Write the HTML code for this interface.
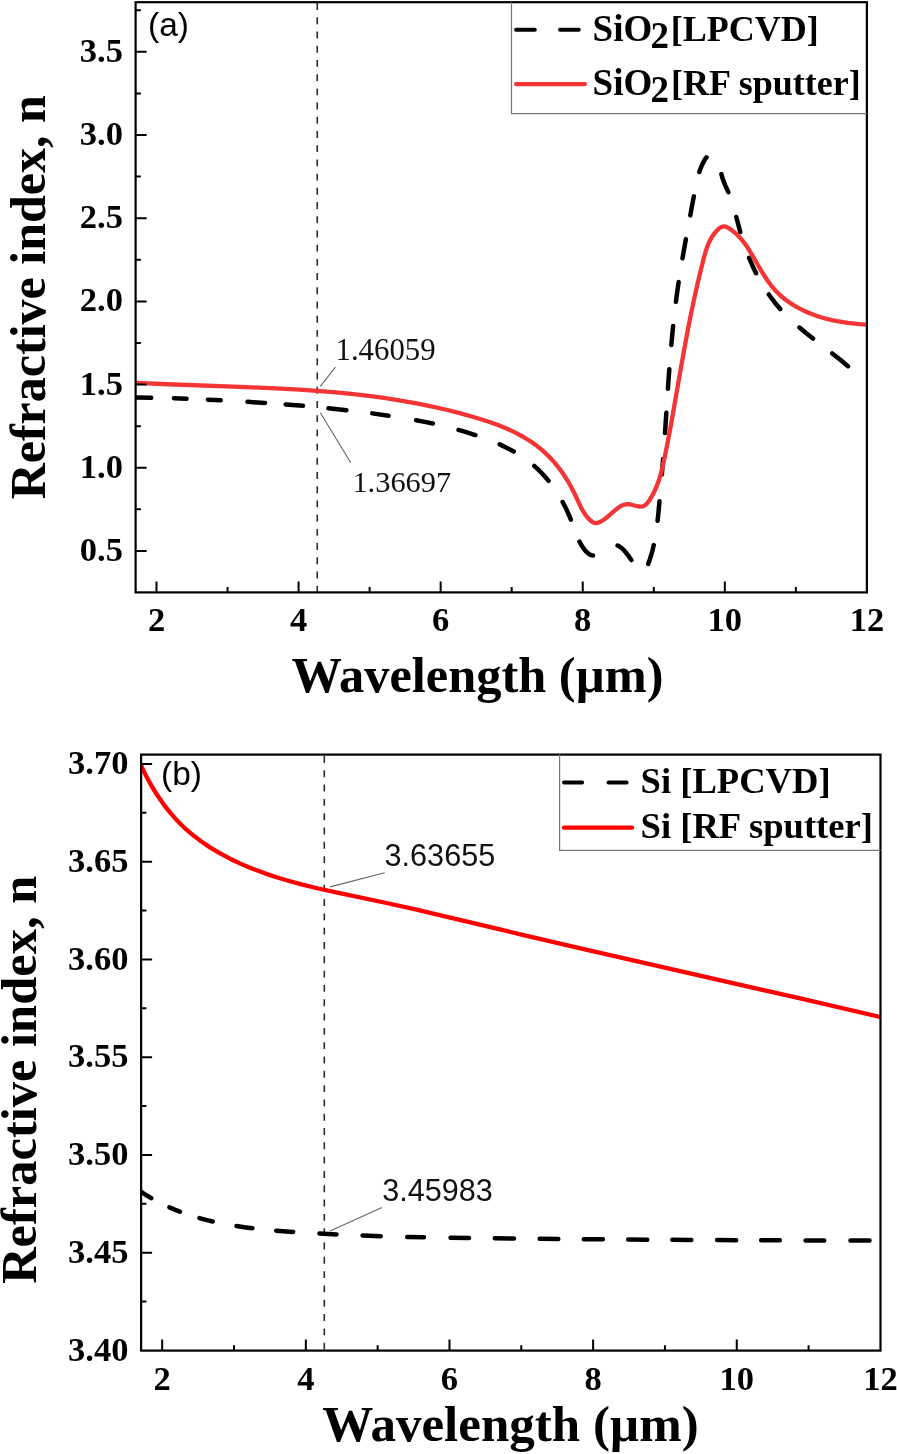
<!DOCTYPE html>
<html><head><meta charset="utf-8"><title>Refractive index</title>
<style>html,body{margin:0;padding:0;background:#fff;}svg{display:block;}</style>
</head><body>
<svg width="897" height="1454" viewBox="0 0 897 1454">
<rect width="897" height="1454" fill="#fff"/>
<defs><clipPath id="ca"><rect x="135.6" y="2.2" width="731.3" height="590.2"/></clipPath>
<clipPath id="cb"><rect x="141.1" y="754.6" width="739.4" height="596"/></clipPath></defs>
<path d="M317.25 3.12V592.4" stroke="#2b2b2b" stroke-width="1.6" stroke-dasharray="6.9 7.31" fill="none"/>
<path d="M122 397.39 L136.32 397.45 L151.28 397.67 M173.93 398.3 L186.54 398.77 M207.9 399.72 L220.7 400.37 M247.57 401.87 L265.04 402.98 M285.69 404.46 L302.94 405.85 M328.5 408.24 L346.38 410.16 M372.28 413.37 L388.56 415.68 M416.13 420.23 L424.71 421.88 L432.85 423.57 M458.54 429.9 L466.97 432.36 L475.36 435.03 M499.67 444.39 L507.02 447.91 L513.79 451.55 M534.26 465.93 L538.03 469.37 L541.64 472.99 L545.11 476.77 L548.56 480.87 M562.64 502.03 L565.05 506.61 L567.2 511.06 L569.17 515.52 L570.87 519.78 M579.52 541.68 L581.31 544.92 L583.05 547.66 L584.78 549.99 L586.47 551.88 L588.08 553.33 L589.75 554.44 L590.6 554.85 L591.46 555.16 L593.05 555.42 M617.6 545.57 L619.15 546.33 L620.66 547.33 L622.29 548.66 L623.86 550.2 L625.53 552.06 L627.27 554.24 L629.06 556.68 L631.36 560.02 M648.17 563.89 L649.77 559.45 L651.26 554.77 L652.56 550.04 L653.75 545.07 M657.6 520.79 L658.43 512.68 L659.47 501.14 M661.82 474.52 L663.11 458.99 M665 433.02 L666.34 412.76 M667.9 388.86 L669.3 369.23 M671.29 344.92 L673.13 325.97 M675.92 301.76 L677.24 291.81 L678.63 282.08 M682.48 258.27 L685.89 239.13 M690.3 215.36 L693.84 196.16 M699.32 172.02 L700.99 167.45 L702.79 163.39 L704.7 159.82 L705.54 158.54 L706.49 157.29 M721.41 174.14 L722.45 178.02 L723.73 181.73 L725.22 185.32 L728.33 192.19 M736.3 217.03 L740.27 232.08 M749.06 257.78 L752.46 265.65 L756.08 273.16 M768.81 294.48 L771.53 298.27 L774.37 301.97 L777.31 305.58 L780.23 308.95 M799.45 327.52 L805.74 332.78 L813 338.58 M832.25 353.45 L840.91 360.3 L848 366.2" clip-path="url(#ca)" stroke="#000" stroke-width="4.5" fill="none" stroke-linecap="round" stroke-linejoin="round"/>
<path d="M130.02 382.41 L147.89 383.37 L167.89 384.27 L246.67 387.13 L280.78 388.64 L299.4 389.69 L316.58 390.85 L333.04 392.18 L348.77 393.67 L366.56 395.66 L383.95 397.96 L400.6 400.52 L416.5 403.34 L432.36 406.54 L447.46 410 L462.51 413.86 L476.82 417.95 L487.97 421.5 L497.96 425.09 L507.08 428.81 L515.32 432.65 L523 436.74 L530.39 441.28 L537.17 446.08 L543.35 451.15 L548.94 456.44 L554.43 462.42 L559.54 468.8 L564.47 475.79 L568.07 481.54 L571.4 487.41 L574.75 494.02 L581.05 507.59 L583.23 511.52 L585.56 515.01 L588.53 518.59 L591.49 521.36 L592.66 522.18 L593.88 522.78 L595.15 523.12 L596.12 523.16 L597.44 522.95 L599.09 522.35 L601.33 521.21 L603.75 519.71 L607.7 516.73 L614.92 510.45 L617.97 507.98 L620.89 506.02 L623.38 504.87 L626.02 504.24 L628.49 504.23 L631.43 504.74 L637.35 506.23 L640.14 506.62 L642.39 506.44 L643.28 506.17 L644.4 505.63 L645.7 504.7 L646.9 503.55 L648.23 501.93 L649.66 499.86 L653.1 493.96 L654.67 490.79 L656.24 487.24 L658.6 481.01 L660.76 473.98 L662.75 466.16 L664.9 456.19 L668.05 440.32 L671.4 422.34 L682.99 356.17 L688.02 328.9 L691.09 313.42 L694.2 298.65 L697.43 284.24 L700.69 270.52 L703.71 258.51 L705.39 252.36 L707.01 247.34 L708.82 242.78 L711.02 238.41 L713.7 234.28 L716.71 230.7 L718.29 229.16 L719.69 228.02 L721.46 226.97 L723.3 226.41 L724.88 226.43 L726.8 227.05 L729.33 228.49 L732.89 231.04 L735.9 233.58 L738.93 236.55 L741.05 238.89 L743.27 241.59 L747.74 247.87 L751.64 254.14 L759.79 268.23 L763.42 274.28 L767.46 280.46 L771.17 285.53 L775.67 290.84 L780.38 295.51 L785.55 299.76 L791.38 303.8 L795.31 306.19 L799.33 308.4 L803.42 310.45 L807.9 312.47 L812.45 314.3 L817.06 315.96 L821.73 317.46 L826.8 318.88 L831.91 320.13 L837.07 321.22 L847.84 322.98 L859.39 324.22 L872 324.94" clip-path="url(#ca)" stroke="#f43535" stroke-width="4.3" fill="none" stroke-linejoin="round"/>
<rect x="135.6" y="2.2" width="731.3" height="590.2" fill="none" stroke="#000" stroke-width="2.2"/>
<path d="M135.6 550.9H146.6M135.6 467.72H146.6M135.6 384.55H146.6M135.6 301.38H146.6M135.6 218.2H146.6M135.6 135.02H146.6M135.6 51.85H146.6M135.6 509.31H140.9M135.6 426.14H140.9M135.6 342.96H140.9M135.6 259.79H140.9M135.6 176.61H140.9M135.6 93.44H140.9M135.6 10.26H140.9M156.5 592.4V581.4M298.58 592.4V581.4M440.66 592.4V581.4M582.74 592.4V581.4M724.82 592.4V581.4M227.54 592.4V587.1M369.62 592.4V587.1M511.7 592.4V587.1M653.78 592.4V587.1M795.86 592.4V587.1" stroke="#000" stroke-width="2" fill="none"/>
<g font-family="'Liberation Serif','Times New Roman',serif" font-weight="bold" font-size="34.5" fill="#000">
<text x="122.9" y="560.9" text-anchor="end">0.5</text>
<text x="122.9" y="477.72" text-anchor="end">1.0</text>
<text x="122.9" y="394.55" text-anchor="end">1.5</text>
<text x="122.9" y="311.38" text-anchor="end">2.0</text>
<text x="122.9" y="228.2" text-anchor="end">2.5</text>
<text x="122.9" y="145.02" text-anchor="end">3.0</text>
<text x="122.9" y="61.85" text-anchor="end">3.5</text>
<text x="156.5" y="631.3" text-anchor="middle">2</text>
<text x="298.58" y="631.3" text-anchor="middle">4</text>
<text x="440.66" y="631.3" text-anchor="middle">6</text>
<text x="582.74" y="631.3" text-anchor="middle">8</text>
<text x="724.82" y="631.3" text-anchor="middle">10</text>
<text x="866.9" y="631.3" text-anchor="middle">12</text>
</g>
<path d="M320.3 386.4L335.5 367.2M320.3 412.8L350.8 462.7" stroke="#666" stroke-width="1.1" fill="none"/>
<g font-family="'Liberation Serif','Times New Roman',serif" font-size="30.8" fill="#111"><text x="335.5" y="359.7">1.46059</text><text x="352.4" y="491.6" font-size="30.4">1.36697</text></g>
<text x="148" y="35.5" font-family="'Liberation Sans',Arial,sans-serif" font-size="33.5" fill="#000">(a)</text>
<path d="M511.5 2.2V113.7H866.9" stroke="#777" stroke-width="1.2" fill="none"/>
<path d="M516.1 29.8H534.8M560 29.8H578.8" stroke="#000" stroke-width="4" stroke-linecap="round" fill="none"/>
<path d="M516.1 84.1H584.9" stroke="#f43535" stroke-width="4.3" stroke-linecap="round" fill="none"/>
<g font-family="'Liberation Serif','Times New Roman',serif" font-weight="bold" font-size="36" fill="#000">
<text x="592.6" y="40.6" font-size="37">SiO</text><text x="670.8" y="40.6">[LPCVD]</text>
<text x="592.6" y="94.6" font-size="37">SiO</text><text x="671.1" y="94.6">[RF sputter]</text></g>
<g font-family="'Liberation Serif','Times New Roman',serif" font-weight="bold" font-size="37" fill="#000"><text x="650.6" y="47.8">2</text><text x="650.6" y="101.6">2</text></g>
<g font-family="'Liberation Serif','Times New Roman',serif" font-weight="bold" font-size="51" fill="#000">
<text x="291.5" y="692" font-size="50.4">Wavelength (µm)</text>
<text transform="translate(45 297.3) rotate(-90)" text-anchor="middle" font-size="50">Refractive index, n</text>
</g>
<path d="M324.3 756V1350.6" stroke="#2b2b2b" stroke-width="1.6" stroke-dasharray="6.9 7.41" fill="none"/>
<path d="M136.05 1188.32 L139.71 1190.87 L143.51 1193.39 L147.35 1195.8 L151.23 1198.09 M169.43 1207.32 L174.62 1209.54 L179.86 1211.61 M199.46 1218.08 L205.96 1219.83 L212.73 1221.48 M236.5 1226.03 L244.31 1227.18 L252.4 1228.23 M276.22 1230.64 L293.2 1231.95 M319.46 1233.61 L336.55 1234.5 M362.66 1235.62 L380.71 1236.24 M407.17 1236.95 L423.98 1237.31 M450.55 1237.75 L468.97 1238 M494.8 1238.29 L513.95 1238.49 M539.67 1238.75 L558.34 1238.93 M583.81 1239.16 L602.85 1239.32 M628.2 1239.52 L647.25 1239.66 M672.36 1239.83 L691.28 1239.94 M717.13 1240.09 L736.18 1240.18 M761.17 1240.28 L779.84 1240.35 M805.57 1240.42 L824.24 1240.46 M850.45 1240.5 L869.5 1240.52" clip-path="url(#cb)" stroke="#000" stroke-width="4.5" fill="none" stroke-linecap="round" stroke-linejoin="round"/>
<path d="M136.65 754.93 L141.28 765.87 L146.32 776.32 L151.75 786.25 L157.68 795.84 L163.96 804.82 L170.55 813.16 L177.41 820.83 L181.01 824.49 L184.72 828.03 L188.54 831.44 L192.66 834.9 L201 841.28 L209.94 847.35 L219.69 853.21 L230 858.72 L240.86 863.86 L252.47 868.75 L264.81 873.36 L276.5 877.26 L289.07 881.03 L302.52 884.66 L317.09 888.22 L337.33 892.71 L385.38 902.77 L415.44 909.47 L447.01 916.83 L525.74 935.58 L578.3 947.84 L641.81 962.41 L800.28 998.44 L884.98 1018.06" clip-path="url(#cb)" stroke="#ff0000" stroke-width="4.3" fill="none" stroke-linejoin="round"/>
<rect x="141.1" y="754.6" width="739.4" height="596" fill="none" stroke="#000" stroke-width="2.2"/>
<path d="M141.1 1252.66H152.1M141.1 1154.92H152.1M141.1 1057.18H152.1M141.1 959.44H152.1M141.1 861.7H152.1M141.1 763.96H152.1M141.1 1301.53H146.4M141.1 1203.79H146.4M141.1 1106.05H146.4M141.1 1008.31H146.4M141.1 910.57H146.4M141.1 812.83H146.4M162.2 1350.6V1339.6M305.84 1350.6V1339.6M449.48 1350.6V1339.6M593.12 1350.6V1339.6M736.76 1350.6V1339.6M234.02 1350.6V1345.3M377.66 1350.6V1345.3M521.3 1350.6V1345.3M664.94 1350.6V1345.3M808.58 1350.6V1345.3" stroke="#000" stroke-width="2" fill="none"/>
<g font-family="'Liberation Serif','Times New Roman',serif" font-weight="bold" font-size="34.5" fill="#000">
<text x="128.4" y="1360.6" text-anchor="end">3.40</text>
<text x="128.4" y="1262.86" text-anchor="end">3.45</text>
<text x="128.4" y="1165.12" text-anchor="end">3.50</text>
<text x="128.4" y="1067.38" text-anchor="end">3.55</text>
<text x="128.4" y="969.64" text-anchor="end">3.60</text>
<text x="128.4" y="871.9" text-anchor="end">3.65</text>
<text x="128.4" y="774.16" text-anchor="end">3.70</text>
<text x="162.2" y="1390.3" text-anchor="middle">2</text>
<text x="305.84" y="1390.3" text-anchor="middle">4</text>
<text x="449.48" y="1390.3" text-anchor="middle">6</text>
<text x="593.12" y="1390.3" text-anchor="middle">8</text>
<text x="736.76" y="1390.3" text-anchor="middle">10</text>
<text x="880.4" y="1390.3" text-anchor="middle">12</text>
</g>
<path d="M330.1 886.9L384.7 872.8M330.1 1231.1L382 1207.5" stroke="#666" stroke-width="1.1" fill="none"/>
<g font-family="'Liberation Sans',Arial,sans-serif" font-size="30.6" fill="#111"><text x="384.6" y="865.6">3.63655</text><text x="382.2" y="1201">3.45983</text></g>
<text x="161" y="784.8" font-family="'Liberation Sans',Arial,sans-serif" font-size="33.5" fill="#000">(b)</text>
<path d="M559.6 754.6V850.3H880.5" stroke="#777" stroke-width="1.2" fill="none"/>
<path d="M564 782.6H582.1M608.5 782.6H626.6" stroke="#000" stroke-width="4" stroke-linecap="round" fill="none"/>
<path d="M564 827.7H632.1" stroke="#ff0000" stroke-width="4.3" stroke-linecap="round" fill="none"/>
<g font-family="'Liberation Serif','Times New Roman',serif" font-weight="bold" font-size="36.6" fill="#000">
<text x="640.6" y="793">Si [LPCVD]</text><text x="640.6" y="838">Si [RF sputter]</text></g>
<g font-family="'Liberation Serif','Times New Roman',serif" font-weight="bold" font-size="51" fill="#000">
<text x="322.3" y="1441">Wavelength (µm)</text>
<text transform="translate(35.7 1079.8) rotate(-90)" text-anchor="middle" font-size="50.5">Refractive index, n</text>
</g>
</svg>
</body></html>
